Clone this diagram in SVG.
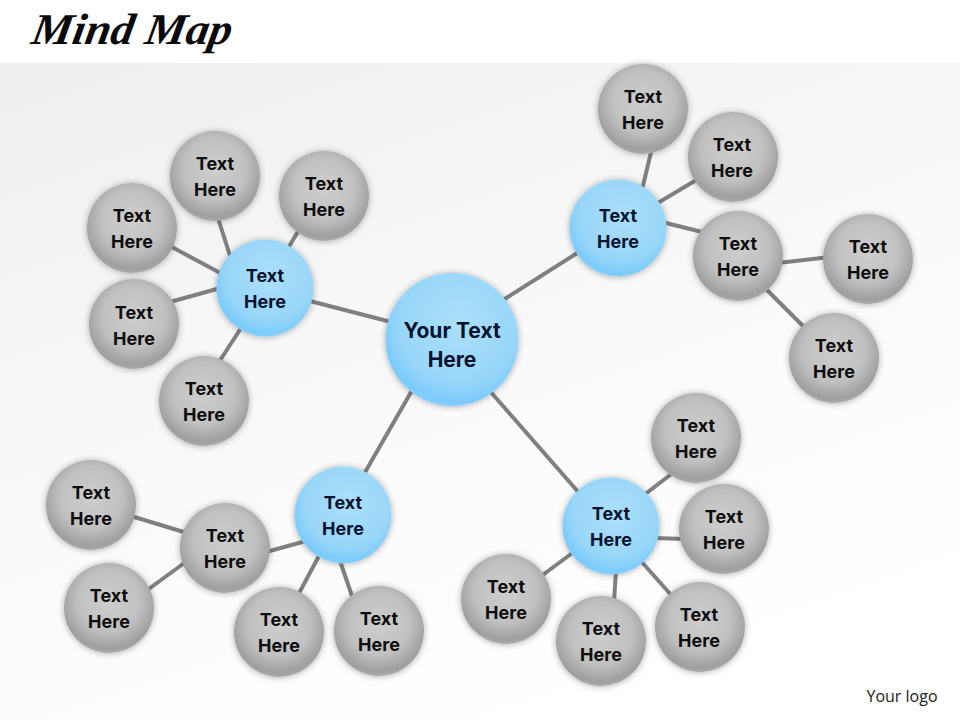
<svg xmlns="http://www.w3.org/2000/svg" width="960" height="720" viewBox="0 0 960 720">
<style>
.t{font-family:"Inter","Roboto","Liberation Sans",sans-serif;font-weight:700;font-size:18px;text-anchor:middle;fill:#0d0d0d}
.b{fill:#03122e}
.h{font-size:21px}
#connectors line{stroke:#808080;stroke-width:4}
</style>
<defs>
<linearGradient id="bg" x1="0.1" y1="0" x2="0.6" y2="1"><stop offset="0" stop-color="#efefef"/><stop offset="0.55" stop-color="#fafafa"/><stop offset="1" stop-color="#ffffff"/></linearGradient>
<radialGradient id="g" cx="0.5" cy="0.42" r="0.58"><stop offset="0" stop-color="#cecece"/><stop offset="0.6" stop-color="#c0c0c0"/><stop offset="0.92" stop-color="#9f9f9f"/><stop offset="1" stop-color="#ababab"/></radialGradient>
<radialGradient id="bl" cx="0.55" cy="0.38" r="0.64"><stop offset="0" stop-color="#abdff9"/><stop offset="0.7" stop-color="#98d6f9"/><stop offset="0.92" stop-color="#7ccbfb"/><stop offset="1" stop-color="#88d0fb"/></radialGradient>
<filter id="s" x="-20%" y="-20%" width="140%" height="140%"><feDropShadow dx="0" dy="0.5" stdDeviation="3" flood-color="#000" flood-opacity="0.33"/></filter>
<circle id="gc" r="45" fill="url(#g)" filter="url(#s)"/>
<circle id="bc" r="48.500" fill="url(#bl)" filter="url(#s)"/>
</defs>
<rect width="960" height="720" fill="#fff"/>
<rect y="63" width="960" height="657" fill="url(#bg)"/>
<text transform="translate(30,44) skewX(-10)" font-family="'Liberation Serif',serif" font-weight="700" font-style="italic" font-size="44" fill="#0a0a0a" textLength="200" lengthAdjust="spacingAndGlyphs">Mind Map</text>
<g id="connectors">
<line x1="395" y1="323" x2="306" y2="300"/>
<line x1="500" y1="302" x2="582" y2="250"/>
<line x1="414" y1="387" x2="364" y2="474"/>
<line x1="489" y1="390" x2="580" y2="494"/>
<line x1="232" y1="262" x2="217" y2="215"/>
<line x1="287" y1="250" x2="300" y2="228"/>
<line x1="224" y1="275" x2="170" y2="246"/>
<line x1="224" y1="287" x2="170" y2="302"/>
<line x1="243" y1="325" x2="219" y2="362"/>
<line x1="642" y1="190" x2="652" y2="148"/>
<line x1="656" y1="204" x2="698" y2="179"/>
<line x1="662" y1="222" x2="706" y2="233"/>
<line x1="778" y1="263" x2="830" y2="257"/>
<line x1="765" y1="288" x2="806" y2="329"/>
<line x1="644" y1="495" x2="674" y2="472"/>
<line x1="654" y1="538" x2="685" y2="539"/>
<line x1="640" y1="560" x2="672" y2="596"/>
<line x1="616" y1="570" x2="614" y2="602"/>
<line x1="575" y1="551" x2="540" y2="577"/>
<line x1="306" y1="541" x2="266" y2="552"/>
<line x1="320" y1="554" x2="297" y2="597"/>
<line x1="339" y1="558" x2="352" y2="596"/>
<line x1="187" y1="533" x2="131" y2="516"/>
<line x1="187" y1="561" x2="146" y2="591"/>
</g>
<g id="hub"><circle cx="452" cy="339.500" r="66.500" fill="url(#bl)" filter="url(#s)"/><text class="t b h" x="452" y="338">Your Text</text><text class="t b h" x="452" y="367">Here</text></g>
<g id="n1"><use href="#bc" x="265" y="288"/><text class="t b" x="265" y="282">Text</text><text class="t b" x="265" y="308">Here</text></g>
<g id="n2"><use href="#bc" x="618" y="228"/><text class="t b" x="618" y="222">Text</text><text class="t b" x="618" y="248">Here</text></g>
<g id="n3"><use href="#bc" x="343" y="515"/><text class="t b" x="343" y="509">Text</text><text class="t b" x="343" y="535">Here</text></g>
<g id="n4"><use href="#bc" x="611" y="526"/><text class="t b" x="611" y="520">Text</text><text class="t b" x="611" y="546">Here</text></g>
<g id="a1"><use href="#gc" x="215" y="176"/><text class="t" x="215" y="170">Text</text><text class="t" x="215" y="196">Here</text></g>
<g id="a2"><use href="#gc" x="324" y="196"/><text class="t" x="324" y="190">Text</text><text class="t" x="324" y="216">Here</text></g>
<g id="a3"><use href="#gc" x="132" y="228"/><text class="t" x="132" y="222">Text</text><text class="t" x="132" y="248">Here</text></g>
<g id="a4"><use href="#gc" x="134" y="324"/><text class="t" x="134" y="319">Text</text><text class="t" x="134" y="345">Here</text></g>
<g id="a5"><use href="#gc" x="204" y="401"/><text class="t" x="204" y="395">Text</text><text class="t" x="204" y="421">Here</text></g>
<g id="b1"><use href="#gc" x="643" y="109"/><text class="t" x="643" y="103">Text</text><text class="t" x="643" y="129">Here</text></g>
<g id="b2"><use href="#gc" x="733" y="157"/><text class="t" x="732" y="151">Text</text><text class="t" x="732" y="177">Here</text></g>
<g id="b3"><use href="#gc" x="738" y="256"/><text class="t" x="738" y="250">Text</text><text class="t" x="738" y="276">Here</text></g>
<g id="b4"><use href="#gc" x="868" y="259"/><text class="t" x="868" y="253">Text</text><text class="t" x="868" y="279">Here</text></g>
<g id="b5"><use href="#gc" x="834" y="358"/><text class="t" x="834" y="352">Text</text><text class="t" x="834" y="378">Here</text></g>
<g id="c1"><use href="#gc" x="696" y="438"/><text class="t" x="696" y="432">Text</text><text class="t" x="696" y="458">Here</text></g>
<g id="c2"><use href="#gc" x="724" y="529"/><text class="t" x="724" y="523">Text</text><text class="t" x="724" y="549">Here</text></g>
<g id="c3"><use href="#gc" x="700" y="627"/><text class="t" x="699" y="621">Text</text><text class="t" x="699" y="647">Here</text></g>
<g id="c4"><use href="#gc" x="601" y="641"/><text class="t" x="601" y="635">Text</text><text class="t" x="601" y="661">Here</text></g>
<g id="c5"><use href="#gc" x="506" y="599"/><text class="t" x="506" y="593">Text</text><text class="t" x="506" y="619">Here</text></g>
<g id="d1"><use href="#gc" x="91" y="505"/><text class="t" x="91" y="499">Text</text><text class="t" x="91" y="525">Here</text></g>
<g id="d2"><use href="#gc" x="225" y="548"/><text class="t" x="225" y="542">Text</text><text class="t" x="225" y="568">Here</text></g>
<g id="d3"><use href="#gc" x="109" y="608"/><text class="t" x="109" y="602">Text</text><text class="t" x="109" y="628">Here</text></g>
<g id="d4"><use href="#gc" x="279" y="632"/><text class="t" x="279" y="626">Text</text><text class="t" x="279" y="652">Here</text></g>
<g id="d5"><use href="#gc" x="379" y="631"/><text class="t" x="379" y="625">Text</text><text class="t" x="379" y="651">Here</text></g>
<text x="902" y="702" font-family="'Open Sans','Liberation Sans',sans-serif" font-size="16" text-anchor="middle" fill="#222">Your logo</text>
</svg>
